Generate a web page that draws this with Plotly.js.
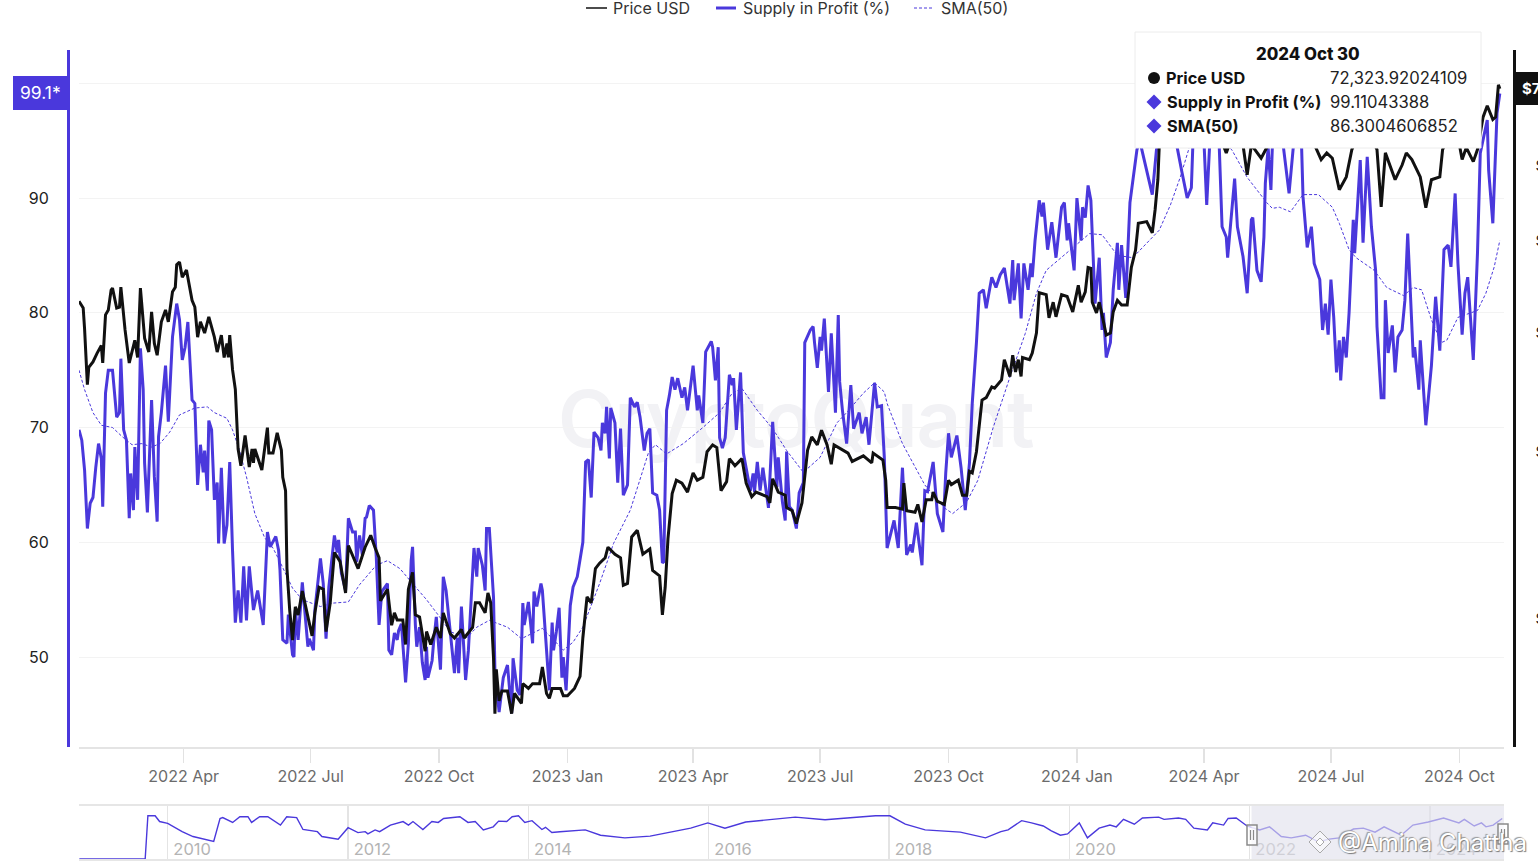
<!DOCTYPE html>
<html><head><meta charset="utf-8">
<script src="https://cdn.plot.ly/plotly-3.0.1.min.js"></script>
<style>
html,body{margin:0;padding:0;background:#fff;width:1538px;height:864px;overflow:hidden}
#wm{position:absolute;left:558px;top:371px;font:600 78px Inter,sans-serif;color:#f2f2f5;letter-spacing:-1px;white-space:nowrap}
#c{position:absolute;left:0;top:0;width:1538px;height:864px}
</style></head><body>
<div id="wm">CryptoQuant</div>
<div id="c"></div>
<script>
const firstDay = Date.UTC(2022,0,16);
const tickDates = ['2022-04-01','2022-07-01','2022-10-01','2023-01-01','2023-04-01','2023-07-01','2023-10-01','2024-01-01','2024-04-01','2024-07-01','2024-10-01'];
const tickLabels = ['2022 Apr','2022 Jul','2022 Oct','2023 Jan','2023 Apr','2023 Jul','2023 Oct','2024 Jan','2024 Apr','2024 Jul','2024 Oct'];
const leftTicks = [50,60,70,80,90,100];
const leftLabels = ['50','60','70','80','90',''];
const rightTicks = [20000,30000,40000,50000,60000];
const rightLabels = ['$20K','$30K','$40K','$50K','$60K'];

const profitDays = [0,2,4,6,8,10,12,14,16,17,19,21,24,27,29,30,32,34,36,37,39,40,42,44,46,47,49,52,54,56,57,59,62,64,67,70,72,74,76,78,81,83,85,87,89,90,92,93,95,97,99,100,102,104,106,108,110,112,114,116,118,120,122,125,128,132,135,137,141,143,144,146,149,150,153,154,155,157,160,162,164,165,168,169,173,175,177,179,181,183,185,186,188,191,193,196,198,199,201,203,205,206,208,211,213,215,217,221,222,224,226,228,229,231,234,236,238,239,241,242,244,246,248,249,250,253,254,256,259,261,263,266,269,271,272,274,277,279,281,283,285,286,289,291,292,294,297,298,301,304,307,310,311,314,316,318,319,322,325,326,328,331,332,335,337,339,340,342,344,346,347,349,352,354,357,361,362,363,365,367,369,372,374,375,377,378,380,381,384,386,388,390,393,395,398,400,402,405,407,409,411,414,416,418,419,421,423,425,427,429,432,434,436,440,443,444,447,449,453,454,456,458,459,461,463,466,468,469,471,474,476,478,481,483,484,486,488,490,493,494,497,500,501,504,506,507,509,511,514,516,519,520,524,526,527,529,531,532,534,537,539,542,544,545,547,550,553,555,559,561,564,566,570,572,575,577,579,584,587,590,593,596,597,600,604,606,608,612,615,619,621,623,625,627,629,632,635,638,640,643,645,648,650,654,657,660,663,667,669,670,673,675,677,680,682,683,685,688,690,691,694,697,700,704,706,708,709,713,715,718,719,721,723,725,728,731,733,734,736,739,741,744,745,747,750,753,755,758,760,765,769,772,776,782,787,790,794,797,798,802,806,808,810,814,817,819,822,823,826,828,830,834,837,840,841,844,847,849,850,852,854,855,859,863,867,870,873,876,877,880,883,885,889,891,893,895,897,899,901,903,904,906,908,910,913,914,918,920,923,926,929,930,933,935,936,938,941,943,945,948,950,952,956,957,960,961,965,969,972,975,978,981,983,986,988,991,993,995,999,1002,1004,1009,1010,1012,1013,1016,1018];
const profitVals = [69.8,68.9,66.3,61.2,63.4,63.9,66.5,68.6,67.3,63.1,73.0,75.0,75.0,70.9,71.3,76.0,69.8,68.9,62.1,66.0,62.8,68.3,63.7,76.9,73.3,66.9,62.6,72.4,65.7,61.8,69.2,71.3,75.4,70.5,77.9,80.8,79.4,75.9,77.0,79.2,72.4,72.1,65.0,68.5,66.1,68.0,64.5,70.6,69.8,63.7,65.2,59.9,66.5,59.9,61.5,67.0,59.3,53.0,55.8,53.0,57.9,53.2,57.9,54.1,55.8,52.8,60.9,59.6,60.5,59.3,57.6,51.5,51.2,53.7,50.2,50.0,54.1,51.5,56.5,53.8,50.9,51.6,50.6,54.1,58.6,56.4,51.6,56.1,58.2,60.6,59.1,60.2,57.3,55.8,62.1,60.9,60.9,58.3,60.6,58.9,62.1,62.2,63.2,62.8,58.7,52.8,55.7,56.4,50.6,50.2,52.1,51.5,52.3,52.9,47.8,51.2,58.4,59.6,52.8,50.9,52.6,49.5,48.0,50.9,48.2,49.7,51.2,53.5,48.9,57.0,55.8,52.1,48.6,51.7,48.6,54.4,48.0,50.6,55.0,59.5,57.0,59.5,58.0,55.8,61.2,61.2,55.2,48.9,45.2,48.2,49.3,45.1,49.9,47.1,46.7,54.7,52.8,54.8,51.2,55.7,54.4,56.4,55.8,50.3,47.1,53.0,50.6,52.2,54.3,48.2,50.0,47.1,54.5,56.1,57.0,60.0,64.5,67.0,67.2,63.9,69.6,69.1,68.0,70.4,69.5,71.8,67.3,71.7,70.4,65.2,69.9,64.1,65.0,72.6,71.8,72.2,70.9,68.0,69.5,69.9,64.3,64.1,62.8,58.2,58.3,71.5,72.8,74.4,73.3,74.3,72.6,73.5,71.5,75.4,71.5,72.8,70.4,76.6,77.5,77.0,74.1,77.0,69.1,68.2,69.1,74.6,73.7,74.3,69.8,74.8,67.8,66.5,64.5,66.0,64.4,67.0,64.5,66.5,63.9,63.0,70.5,64.8,67.4,63.5,61.9,67.9,63.1,62.8,61.2,64.3,65.2,77.4,78.5,78.8,77.4,75.2,77.9,76.7,79.5,73.1,78.2,71.3,79.8,74.0,71.5,68.6,73.7,69.9,71.3,69.5,70.9,68.5,73.9,71.8,71.9,67.4,59.5,61.9,59.5,66.5,58.9,59.8,59.1,61.7,58.0,64.5,64.4,67.0,62.5,60.9,66.0,69.5,67.4,68.5,69.3,66.5,62.8,66.9,72.1,77.4,81.7,82.0,80.4,83.1,82.2,83.3,83.9,80.8,84.6,81.1,84.3,79.5,84.3,82.0,84.3,83.1,86.3,89.8,88.4,89.6,85.5,87.9,84.8,89.2,89.6,86.3,87.8,83.7,90.0,86.3,89.2,88.3,91.1,89.8,80.8,84.8,78.5,80.0,76.1,77.4,82.0,86.1,82.0,85.9,81.3,89.6,91.6,94.2,95.0,92.4,90.3,94.2,95.9,96.4,94.3,92.4,90.0,90.9,94.4,95.5,95.0,89.4,94.4,95.9,94.4,87.5,86.6,84.8,88.9,91.7,87.5,84.9,81.7,88.1,88.3,83.7,82.7,86.6,91.3,94.4,90.7,94.4,95.5,94.4,90.4,94.4,95.2,94.4,90.1,85.7,87.5,84.3,82.9,78.5,80.8,78.1,82.9,79.6,74.8,77.6,74.1,77.9,76.1,80.0,88.1,85.2,93.3,86.1,93.6,87.5,83.7,78.8,72.6,72.6,81.1,76.5,78.9,74.8,77.9,78.5,81.1,86.9,76.1,77.0,73.3,77.6,70.2,75.4,81.4,76.7,85.5,85.9,84.0,90.4,84.3,78.1,81.7,83.1,75.9,85.2,93.9,96.8,92.4,89.6,87.8,97.4,99.11];

const priceDays = [0,3,4,6,7,10,13,16,17,19,21,23,24,27,29,30,33,36,40,42,44,47,50,52,54,56,59,62,64,67,69,70,72,74,77,81,83,85,87,90,93,97,99,102,104,106,107,108,110,112,114,116,119,122,124,125,126,131,135,136,139,142,145,146,148,149,151,153,155,157,160,164,167,169,172,175,177,180,183,187,191,193,200,205,209,212,215,216,221,224,226,228,232,234,236,239,241,244,248,249,252,256,259,261,266,269,274,276,282,284,287,291,293,295,297,298,299,301,303,307,310,312,317,318,322,325,330,332,335,337,339,345,347,350,355,359,361,364,367,370,373,377,379,384,388,390,393,396,400,404,409,411,416,418,420,422,425,428,432,436,440,443,447,450,454,457,460,464,466,470,475,478,482,485,493,495,497,501,506,507,511,514,518,522,525,529,532,536,539,541,544,551,554,562,568,569,576,578,579,585,590,591,593,599,601,604,607,611,612,615,620,623,625,630,633,636,638,640,643,647,650,654,656,661,663,667,669,671,673,675,676,681,683,686,688,693,695,698,700,704,708,712,716,718,721,723,725,726,729,731,733,736,739,741,744,747,751,754,757,759,765,769,771,773,774,782,789,796,803,810,817,822,828,834,837,840,844,847,852,860,871,882,890,894,898,903,908,912,918,925,930,933,936,939,943,948,951,955,961,965,969,975,977,982,987,991,994,999,1002,1006,1009,1013,1015,1017,1018];
const priceVals = [43200,42500,40400,35300,36800,37300,38100,38800,37200,41800,42300,44400,44600,42500,42600,44700,40300,37200,39300,37700,44600,39500,38200,42100,39000,37900,41100,42300,41100,44200,44700,47200,47500,45800,46600,43300,42600,39600,41100,40000,41600,39600,38200,39800,37700,39000,37700,39800,36600,34900,30200,29000,31200,28900,30200,29200,30200,28700,31800,29900,29900,31400,30100,28200,27300,22600,20400,19000,20600,20200,21400,20100,19200,20300,21600,21500,19400,20800,23500,23000,21300,23900,22600,23800,24500,23800,23200,20900,21500,19700,20300,19950,19950,18800,21500,22400,20200,20100,18500,19400,18800,19600,19100,20300,19300,19100,19500,19100,19600,20800,20800,20300,21300,20800,18200,15900,17700,16400,16800,16800,15900,16700,16300,17100,16900,17100,17100,17800,16700,16500,16900,16900,16600,16600,16900,17400,19100,21100,20800,22600,22900,23200,23800,23400,23200,21700,21800,24400,24800,23400,23700,22500,22200,20200,21600,24300,27100,28000,27800,27200,28500,28000,28200,30000,30500,30300,27300,27900,29500,29000,29500,27800,26900,27200,26900,26500,28100,27200,27000,26200,26000,25200,26500,30100,31100,30500,31600,30500,29100,30500,30300,29900,29300,29700,29200,29900,29400,28000,26200,26200,26100,27800,26000,25900,26400,25300,26700,26700,27200,26600,26400,28000,27700,28000,27000,27000,28600,28500,30000,34000,34200,35100,35000,35700,37500,36000,37900,36400,37500,36000,37700,37500,38100,40000,44100,43900,41500,43100,41600,43900,43700,42100,44900,43100,44200,46900,46800,43100,42000,43100,41800,39800,40000,42100,43300,42800,42800,46900,48900,52200,52400,51000,53900,58000,63000,65800,67100,66300,65500,65800,64700,61900,65500,63100,58700,63100,61900,61100,63100,66300,64700,64700,60900,61900,61100,56600,58400,62400,65500,64700,62400,54300,61900,60100,58000,60100,61900,60900,58400,54200,58000,58400,62400,64700,65500,60900,62700,60600,62400,67500,69400,67100,67500,73000,72324];

const smaDays = [0,4,10,16,24,31,38,45,52,58,65,72,83,92,97,106,110,115,120,126,133,139,144,153,160,173,182,193,201,213,221,230,239,249,259,266,278,285,294,307,317,332,340,347,354,361,373,383,395,408,413,421,433,447,459,468,475,486,497,507,519,531,543,550,562,570,577,579,590,606,620,626,636,644,655,667,678,686,693,710,724,733,744,755,767,774,782,789,796,803,814,826,837,851,855,860,868,877,888,898,903,910,915,928,937,949,956,962,969,976,980,988,1002,1008,1014,1018];
const smaVals = [75.0,73.3,71.3,70.2,70.0,69.2,68.5,68.6,68.3,68.6,69.6,71.1,71.7,71.8,71.3,70.8,69.8,68.0,65.7,62.5,60.4,59.5,58.3,56.0,55.0,54.4,54.7,54.8,56.3,58.0,58.4,57.7,56.4,55.0,53.4,52.2,51.7,52.6,53.2,52.6,51.6,52.5,51.5,50.6,51.3,52.6,56.4,59.9,62.8,67.8,68.5,67.7,68.6,70.0,71.3,73.0,73.4,71.5,69.9,68.0,66.1,67.4,70.4,71.3,73.0,73.9,73.1,72.1,68.6,65.0,63.0,62.5,63.5,65.4,70.0,74.4,78.2,81.7,83.7,85.5,86.9,86.8,85.0,84.8,86.3,87.2,89.4,91.8,94.6,95.7,95.5,94.2,91.8,89.6,89.1,89.2,88.8,90.3,90.3,89.2,87.8,85.5,84.8,83.7,82.2,81.5,82.2,82.0,79.4,77.4,77.6,79.6,80.2,81.7,84.0,86.3];

const overviewYears = [2009.02,2009.75,2009.78,2009.86,2009.91,2010.00,2010.16,2010.28,2010.51,2010.58,2010.61,2010.72,2010.80,2010.89,2010.93,2011.02,2011.11,2011.25,2011.32,2011.43,2011.50,2011.66,2011.71,2011.89,2012.00,2012.11,2012.19,2012.22,2012.30,2012.35,2012.47,2012.61,2012.67,2012.72,2012.83,2012.93,2013.00,2013.06,2013.24,2013.33,2013.41,2013.50,2013.61,2013.67,2013.76,2013.82,2013.89,2013.96,2014.04,2014.15,2014.19,2014.26,2014.35,2014.63,2014.80,2015.07,2015.35,2015.57,2015.80,2015.99,2016.18,2016.41,2016.68,2016.96,2017.29,2017.57,2017.85,2018.01,2018.18,2018.40,2018.79,2019.07,2019.24,2019.32,2019.47,2019.58,2019.71,2019.80,2019.90,2019.98,2020.11,2020.20,2020.33,2020.45,2020.52,2020.60,2020.72,2020.81,2020.99,2021.05,2021.21,2021.29,2021.38,2021.53,2021.59,2021.71,2021.76,2021.85,2021.97,2022.11,2022.22,2022.35,2022.46,2022.62,2022.76,2022.88,2022.99,2023.15,2023.26,2023.39,2023.49,2023.68,2023.81,2023.98,2024.15,2024.32,2024.38,2024.49,2024.57,2024.62,2024.70,2024.80];
const overviewVals = [0,0,98,98,85,81,62,51,40,92,94,83,96,96,83,96,96,77,96,94,67,62,51,45,71,60,62,57,66,62,77,85,77,85,67,85,83,92,96,83,85,66,73,86,85,96,98,83,87,67,72,60,62,66,54,48,52,61,70,82,70,84,89,95,89,93,98,98,79,66,61,48,62,66,87,82,75,64,54,57,82,48,70,77,73,90,79,93,95,90,93,90,70,66,82,77,92,93,75,66,73,51,48,54,39,45,48,68,70,61,73,54,77,84,93,82,90,75,82,73,77,92];
const overviewTicks = [2010,2012,2014,2016,2018,2020,2022,2024];

const tipDate = '2024 Oct 30';
const tipNames = ['Price USD','Supply in Profit (%)','SMA(50)'];
const tipValues = ['72,323.92024109','99.11043388','86.3004606852'];

const BLUE='#4a38dc', INK='#111111', FF='Inter, sans-serif';
const toDate = d => new Date(firstDay + d*86400000).toISOString();
const X = x => x/1538, Y = y => 1-y/864;
const P = pts => pts.map((p,i)=>(i?'L':'M')+X(p[0]).toFixed(5)+' '+Y(p[1]).toFixed(5)).join(' ')+' Z';
const rect = (x0,y0,x1,y1,fill,line,w) => ({type:'rect',xref:'paper',yref:'paper',x0:X(x0),x1:X(x1),y0:Y(y1),y1:Y(y0),fillcolor:fill,line:{color:line||fill,width:w||0},layer:'above'});
const path = (pts,fill,line,w) => ({type:'path',xref:'paper',yref:'paper',path:P(pts),fillcolor:fill,line:{color:line||fill,width:w||0},layer:'above'});
const vline = (x,y0,y1,c) => ({type:'line',xref:'paper',yref:'paper',x0:X(x),x1:X(x),y0:Y(y1),y1:Y(y0),line:{color:c,width:1.2},layer:'above'});
const hline = (x0,x1,y,c,w,dash) => ({type:'line',xref:'paper',yref:'paper',x0:X(x0),x1:X(x1),y0:Y(y),y1:Y(y),line:{color:c,width:w,dash:dash||'solid'},layer:'above'});
const note = (x,y,text,o) => Object.assign({xref:'paper',yref:'paper',x:X(x),y:Y(y),text,showarrow:false,xanchor:'left',yanchor:'middle',font:{family:FF,size:16,color:INK}},o||{});
const dia = (x,y,r,c) => path([[x,y-r],[x+r,y],[x,y+r],[x-r,y]],c);

const traces = [
 {name:'Price USD',x:priceDays.map(toDate),y:priceVals,yaxis:'y2',type:'scatter',mode:'lines',line:{color:INK,width:3},hoverinfo:'skip',showlegend:false},
 {name:'Supply in Profit (%)',x:profitDays.map(toDate),y:profitVals,type:'scatter',mode:'lines',line:{color:BLUE,width:3},hoverinfo:'skip',showlegend:false},
 {name:'SMA(50)',x:smaDays.map(toDate),y:smaVals,type:'scatter',mode:'lines',line:{color:BLUE,width:1,dash:'3px,2px'},hoverinfo:'skip',showlegend:false},
 {name:'Overview',x:overviewYears,y:overviewVals,xaxis:'x2',yaxis:'y3',type:'scatter',mode:'lines',line:{color:BLUE,width:1.4},showlegend:false,hoverinfo:'skip'}
];

const shapes = [
 // legend samples
 hline(586,607,8,INK,1.5), hline(716,736,8,BLUE,3), hline(914,934,8,BLUE,1,'3px,2px'),
 // overview selection
 {type:'rect',xref:'x2',yref:'y3',x0:2022.02,x1:2024.82,y0:0,y1:120.3,fillcolor:'rgba(224,224,236,0.62)',line:{width:0},layer:'above'},
 rect(1247,825,1257,845,'rgba(255,255,255,0.7)','#8a8a8a',1.5), vline(1250.5,830,840,'#8a8a8a'), vline(1253.5,830,840,'#8a8a8a'),
 rect(1498,824,1508,844,'rgba(255,255,255,0.7)','#8a8a8a',1.5), vline(1501.5,829,839,'#8a8a8a'), vline(1504.5,829,839,'#8a8a8a'),
 // tooltip box
 rect(1135,32,1481,148,'#ffffff','#ececec',1),
 {type:'circle',xref:'paper',yref:'paper',x0:X(1148),x1:X(1160),y0:Y(84),y1:Y(72),fillcolor:INK,line:{width:0},layer:'above'},
 dia(1154,102,7.5,BLUE), dia(1154,126,7.5,BLUE),
 // axis value badges
 rect(13,76,68,110,BLUE), rect(1516,72,1538,105,INK),
 // watermark logo
 path([[1320,831],[1331,842],[1320,853],[1309,842]],'rgba(255,255,255,0.55)','#a9a9a9',1),
 path([[1320,838],[1324,842],[1320,846],[1316,842]],'#ffffff','#a9a9a9',1)
];

const B = {family:FF,size:16.3,color:INK,weight:700}, V = {family:FF,size:16.6,color:'#222'}, L = {family:FF,size:16,color:'#333'};
const annotations = [
 note(611,8,tipNames[0],{font:L}), note(741,8,tipNames[1],{font:L}), note(939,8,tipNames[2],{font:L}),
 note(1308,54,tipDate,{xanchor:'center',font:Object.assign({},B,{size:16.8,weight:800})}),
 note(1164,78,tipNames[0],{font:B}),
 note(1165,102,tipNames[1],{font:B}),
 note(1165,126,tipNames[2],{font:B}),
 note(1328,78,tipValues[0],{font:V}),
 note(1328,102,tipValues[1],{font:V}),
 note(1328,126,tipValues[2],{font:V}),
 note(18,93,'99.1*',{font:{family:FF,size:17.5,color:'#ffffff'}}),
 note(1520,88,'$72.3K',{font:{family:FF,size:15,color:'#ffffff',weight:700}}),
 note(1336,842,'@Amina Chattha',{font:{family:FF,size:24,color:'#ffffff',shadow:'1px 1px 1px #777, -1px -1px 1px #999'}})
];

const layout = {
 width:1538,height:864,autosize:false,margin:{l:0,r:0,t:0,b:0,pad:0},
 paper_bgcolor:'rgba(0,0,0,0)',plot_bgcolor:'rgba(0,0,0,0)',
 font:{family:FF,size:16,color:'#222'},
 showlegend:false,
 xaxis:{type:'date',domain:[79/1538,1504/1538],range:['2022-01-16','2024-11-02'],anchor:'y',tickmode:'array',tickvals:tickDates,ticktext:tickLabels,ticks:'outside',ticklen:14,tickwidth:1.5,tickcolor:'#e2e2e2',showline:true,linecolor:'#e4e4e4',linewidth:2,showgrid:false,zeroline:false,tickfont:{family:FF,size:16,color:'#6b6b6b'},tickangle:0},
 yaxis:{domain:[117/864,814/864],range:[42.16,102.9],anchor:'free',position:68/1538,side:'left',tickmode:'array',tickvals:leftTicks,ticktext:leftLabels,ticks:'outside',ticklen:15,tickcolor:'rgba(0,0,0,0)',showline:true,linecolor:BLUE,linewidth:3,showgrid:true,gridcolor:'#f3f3f3',gridwidth:1,zeroline:false,tickfont:{family:FF,size:16,color:'#222'}},
 yaxis2:{domain:[117/864,814/864],type:'log',range:[4.16629,4.89998],overlaying:'y',anchor:'free',position:1514/1538,side:'right',tickmode:'array',tickvals:rightTicks,ticktext:rightLabels,ticks:'outside',ticklen:17,tickcolor:'rgba(0,0,0,0)',showline:true,linecolor:INK,linewidth:2.5,showgrid:false,zeroline:false,tickfont:{family:FF,size:15,color:'#222'}},
 xaxis2:{type:'linear',domain:[79/1538,1504/1538],range:[2009.016,2024.82],anchor:'y3',tickmode:'array',tickvals:overviewTicks,ticktext:overviewTicks.map(y=>'\u00a0'+y),ticklabelposition:'inside right',ticklabelstandoff:-2,ticks:'',showline:true,mirror:true,linecolor:'#e6e6e6',linewidth:2,showgrid:true,gridcolor:'#e4e4e4',gridwidth:1.5,zeroline:false,tickfont:{family:FF,size:16.5,color:'#b4b4b4'}},
 yaxis3:{domain:[5/864,58/864],range:[0,120.3],anchor:'x2',showticklabels:false,ticks:'',showgrid:false,zeroline:false,showline:false},
 shapes,annotations
};
Plotly.newPlot('c',traces,layout,{displayModeBar:false,staticPlot:true});
</script></body></html>
